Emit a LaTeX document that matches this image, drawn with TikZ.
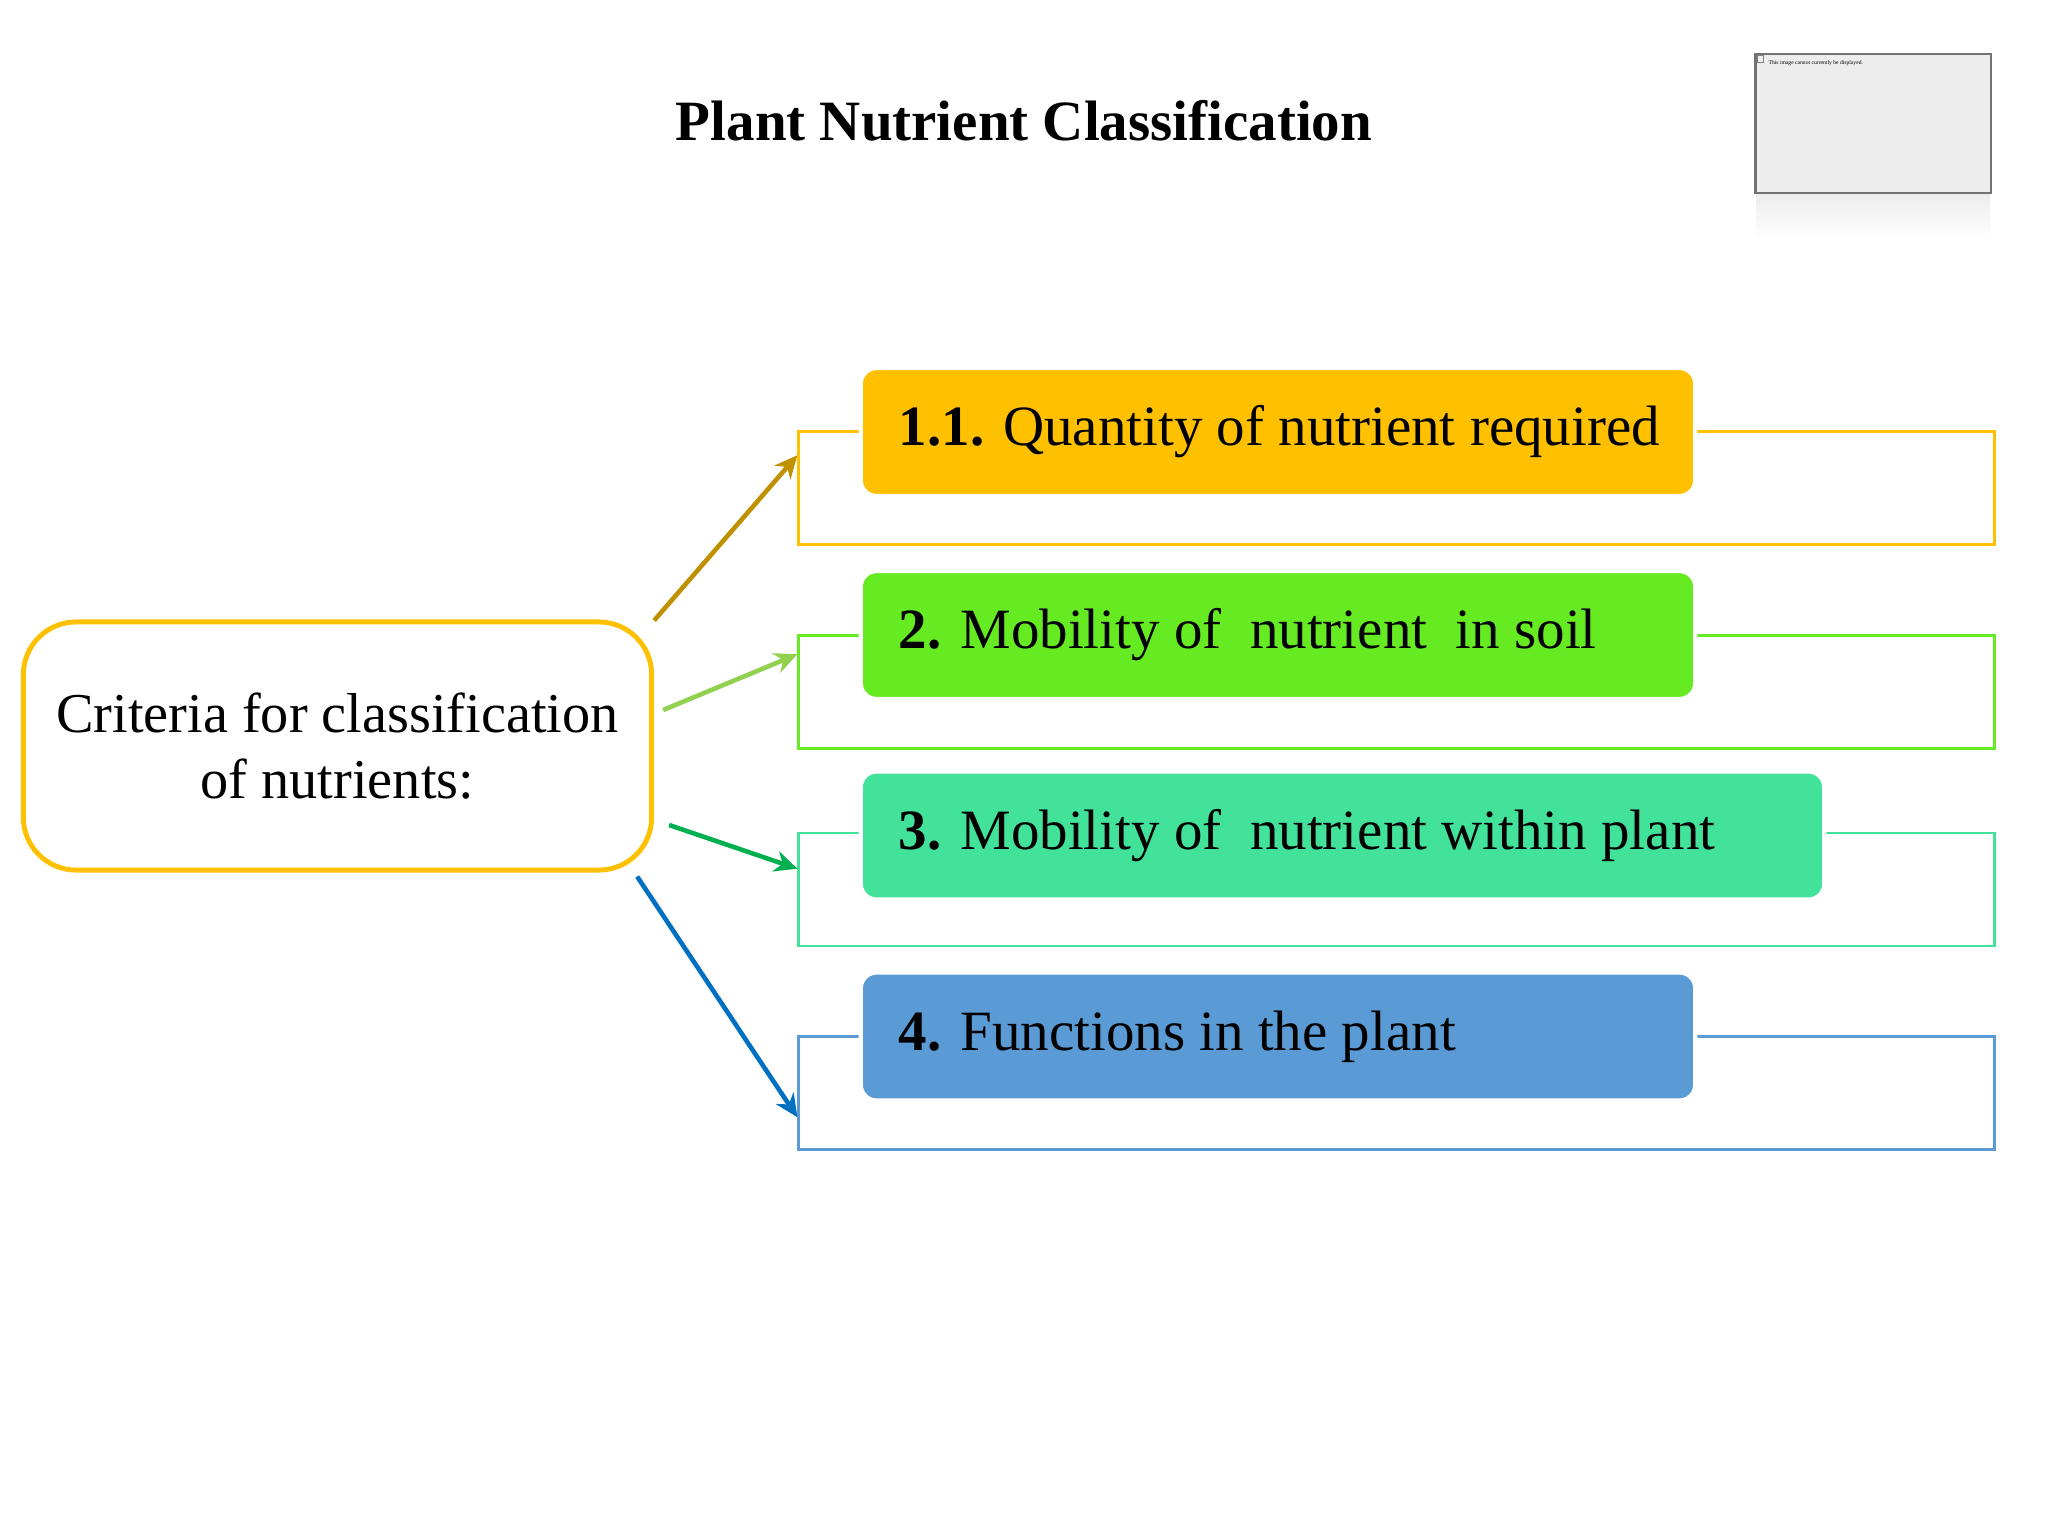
\documentclass[tikz,border=0pt]{standalone}
\usepackage{fontspec}
\setmainfont{Liberation Serif}
\usetikzlibrary{calc,arrows.meta}

\definecolor{gold}{HTML}{FFC000}
\definecolor{darkgold}{HTML}{BF9000}
\definecolor{lightgreen}{HTML}{92D050}
\definecolor{deepgreen}{HTML}{00B050}
\definecolor{deepblue}{HTML}{0070C0}
\definecolor{limegreen}{HTML}{66EB22}
\definecolor{mintgreen}{HTML}{42E29A}
\definecolor{skyblue}{HTML}{5B9BD5}

\tikzset{
  frame/.style={draw=#1, line width=0.7pt, minimum width=11.95cm, minimum height=1.13cm},
  fillbox/.style={fill=#1, draw=white, line width=1.2pt, rounded corners=4.5pt,
    minimum height=1.28cm, inner xsep=0.38cm, align=flush left,
    font=\fontsize{16.2}{19}\selectfont},
  link/.style={draw=#1, line width=1.3pt, -{Stealth[length=6.5pt,width=6pt]}}
}

\begin{document}
\begin{tikzpicture}[x=0.01cm,y=-0.01cm,>=latex]
  \useasboundingbox (0,0) rectangle (2048,1536);
  % title
  \node[font=\fontsize{16.2}{19}\selectfont\bfseries] (title) at (1024,121) {Plant Nutrient Classification};
  % broken picture placeholder
  \shade[top color=black!7, bottom color=white] (1756,194) rectangle (1990,240);
  \node[draw=black!55, fill=black!7, line width=0.6pt, minimum width=2.35cm, minimum height=1.39cm] (pic) at (1873,123.5) {};
  \node[anchor=north west, inner sep=1pt, font=\fontsize{1.6}{2}\selectfont] (pictext) at ($(pic.north west)+(10,3)$) {This image cannot currently be displayed.};
  \draw[black!50, line width=0.3pt] ($(pic.north west)+(3,3)$) rectangle ($(pic.north west)+(9,10)$);
  % left box
  \node[draw=gold, line width=1.4pt, rounded corners=15pt, minimum width=6.28cm, minimum height=2.48cm,
        align=center, font=\fontsize{16}{19}\selectfont] (crit) at (337.5,746)
        {Criteria for classification\\of nutrients:};
  % outline frames
  \node[frame=gold] (frame1) at (1396.5,488) {};
  \node[frame=limegreen] (frame2) at (1396.5,692) {};
  \node[frame=mintgreen] (frame3) at (1396.5,889.5) {};
  \node[frame=skyblue] (frame4) at (1396.5,1093) {};
  % filled boxes
  \node[fillbox=gold, minimum width=8.34cm, text width=7.58cm] (q1) at (1278,432)
        {\mbox{\textbf{1.1.} Quantity of nutrient required}};
  \node[fillbox=limegreen, minimum width=8.34cm, text width=7.58cm] (q2) at (1278,635)
        {\mbox{\textbf{2.} Mobility of\ \ nutrient\ \ in soil}};
  \node[fillbox=mintgreen, minimum width=9.63cm, text width=8.87cm] (q3) at (1342.5,835.5)
        {\mbox{\textbf{3.} Mobility of\ \ nutrient within plant}};
  \node[fillbox=skyblue, minimum width=8.34cm, text width=7.58cm] (q4) at (1278,1036.5)
        {\mbox{\textbf{4.} Functions in the plant}};
  % arrows
  \coordinate (s1) at ($(crit.north east)+(0,1)$);
  \coordinate (s2) at ($(crit.east)+(9,-36)$);
  \coordinate (s3) at ($(crit.east)+(15,79)$);
  \coordinate (s4) at ($(crit.south east)+(-17,4)$);
  \draw[link=darkgold] (s1) -- ($(frame1.north west)+(0,25)$);
  \draw[link=lightgreen] (s2) -- ($(frame2.north west)+(0,20)$);
  \draw[link=deepgreen] (s3) -- ($(frame3.north west)+(0,37)$);
  \draw[link=deepblue] (s4) -- ($(frame4.north west)+(0,82)$);
\end{tikzpicture}
\end{document}
